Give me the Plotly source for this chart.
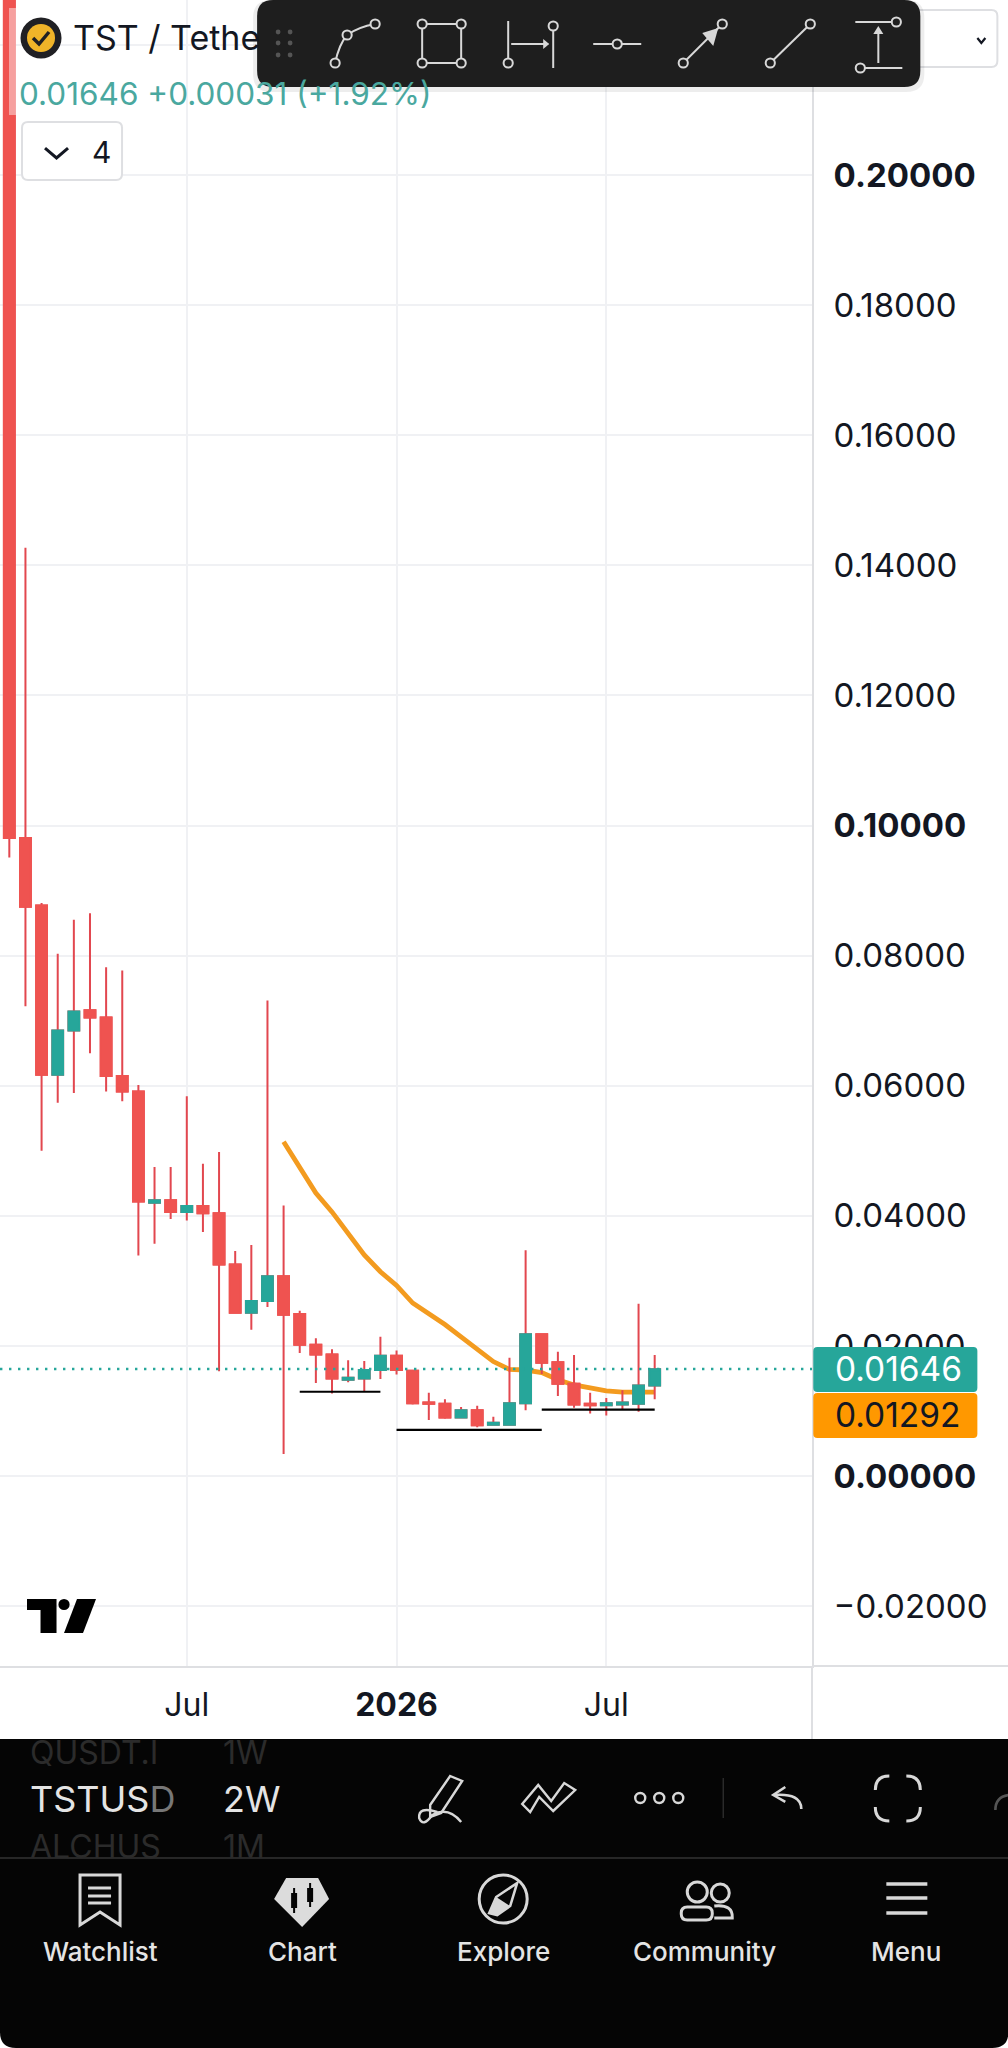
import plotly.graph_objects as go

# 2W candles
dates = [
    "2025-01-27", "2025-02-10", "2025-02-24", "2025-03-10", "2025-03-24", "2025-04-07",
    "2025-04-21", "2025-05-05", "2025-05-19", "2025-06-02", "2025-06-16", "2025-06-30",
    "2025-07-14", "2025-07-28", "2025-08-11", "2025-08-25", "2025-09-08", "2025-09-22",
    "2025-10-06", "2025-10-20", "2025-11-03", "2025-11-17", "2025-12-01", "2025-12-15",
    "2025-12-29", "2026-01-12", "2026-01-26", "2026-02-09", "2026-02-23", "2026-03-09",
    "2026-03-23", "2026-04-06", "2026-04-20", "2026-05-04", "2026-05-18", "2026-06-01",
    "2026-06-15", "2026-06-29", "2026-07-13", "2026-07-27", "2026-08-10",
]
opens = [
    0.3000, 0.0981, 0.0877, 0.0617, 0.0685, 0.0716, 0.0705, 0.0615, 0.0591, 0.0420, 0.0424,
    0.0406, 0.0415, 0.0404, 0.0325, 0.0251, 0.0269, 0.0307, 0.0249, 0.0202, 0.0187, 0.0148,
    0.0150, 0.0163, 0.0185, 0.0162, 0.0113, 0.0111, 0.0090, 0.0101, 0.0079, 0.0079, 0.0112,
    0.0218, 0.0175, 0.0142, 0.0111, 0.0109, 0.0110, 0.0111, 0.0139,
]
highs = [
    0.3000, 0.1427, 0.0881, 0.0803, 0.0855, 0.0865, 0.0782, 0.0777, 0.0601, 0.0475, 0.0475,
    0.0584, 0.0480, 0.0498, 0.0346, 0.0355, 0.0731, 0.0416, 0.0254, 0.0212, 0.0195, 0.0178,
    0.0177, 0.0214, 0.0193, 0.0162, 0.0128, 0.0118, 0.0106, 0.0108, 0.0091, 0.0182, 0.0347,
    0.0219, 0.0191, 0.0186, 0.0128, 0.0120, 0.0132, 0.0265, 0.0186,
]
lows = [
    0.0951, 0.0722, 0.0500, 0.0574, 0.0589, 0.0650, 0.0591, 0.0576, 0.0339, 0.0357, 0.0395,
    0.0393, 0.0375, 0.0161, 0.0251, 0.0225, 0.0260, 0.0034, 0.0189, 0.0143, 0.0127, 0.0144,
    0.0130, 0.0149, 0.0156, 0.0110, 0.0086, 0.0088, 0.0090, 0.0075, 0.0078, 0.0079, 0.0101,
    0.0157, 0.0123, 0.0105, 0.0096, 0.0093, 0.0103, 0.0099, 0.0118,
]
closes = [
    0.0981, 0.0875, 0.0617, 0.0685, 0.0714, 0.0705, 0.0615, 0.0591, 0.0422, 0.0424, 0.0406,
    0.0415, 0.0404, 0.0325, 0.0251, 0.0269, 0.0307, 0.0248, 0.0202, 0.0187, 0.0150, 0.0151,
    0.0163, 0.0185, 0.0163, 0.0112, 0.0111, 0.0090, 0.0101, 0.0078, 0.0082, 0.0112, 0.0218,
    0.0174, 0.0142, 0.0110, 0.0109, 0.0112, 0.0113, 0.0139, 0.0164,
]

# moving average, starts at the 18th candle
ma_values = [
    0.0514, 0.0473, 0.0435, 0.0406, 0.0374, 0.0340, 0.0314, 0.0293, 0.0266, 0.0250, 0.0233,
    0.0214, 0.0195, 0.0176, 0.0164, 0.0163, 0.0159, 0.0148, 0.0140, 0.0135, 0.0131, 0.0129,
    0.0129, 0.0129,
]

# hand drawn support lines
level_starts = ["2025-10-06", "2025-12-29", "2026-05-04"]
level_ends = ["2025-12-15", "2026-05-04", "2026-08-10"]
level_values = [0.01296, 0.0071, 0.0102]

last_price = 0.01646
ma_last = 0.01292

y_ticks = [-0.02, 0.0, 0.02, 0.04, 0.06, 0.08, 0.10, 0.12, 0.14, 0.16, 0.18, 0.20, 0.22]
y_labels = [
    "−0.02000", "<b>0.00000</b>", "0.02000", "0.04000", "0.06000", "0.08000", "<b>0.10000</b>",
    "0.12000", "0.14000", "0.16000", "0.18000", "<b>0.20000</b>", "",
]
x_ticks = ["2025-06-30", "2025-12-29", "2026-06-29"]
x_labels = ["Jul", "<b>2026</b>", "Jul"]

RED = "#ef5350"
WICK = "#e2474f"
TEAL = "#26a69a"
ORANGE = "#f39b1f"
INK = "#131722"
GRID = "#f0f1f4"
EDGE = "#dedfe2"
FONT = "Inter"

PLOT_W = 811.7
PLOT_H = 1666.0


def px(x):
    return x / PLOT_W


def py(y):
    return 1 - y / PLOT_H


def poly(points, fill=None, line=None, width=0, closed=True):
    """Shape from pixel points of the page"""
    path = "M " + " L ".join(f"{px(x):.5f},{py(y):.5f}" for x, y in points)
    if closed:
        path += " Z"
    return dict(
        type="path", xref="paper", yref="paper", path=path, layer="above",
        fillcolor=fill if fill else "rgba(0,0,0,0)",
        line=dict(color=line if line else "rgba(0,0,0,0)", width=width),
    )


def curve(d, fill=None, line=None, width=0):
    """Shape from a list of (command, x, y, ...) in page pixels"""
    parts = []
    for seg in d:
        nums = seg[1:]
        pairs = [f"{px(nums[i]):.5f},{py(nums[i + 1]):.5f}" for i in range(0, len(nums), 2)]
        parts.append(seg[0] + " " + " ".join(pairs))
    return dict(
        type="path", xref="paper", yref="paper", path=" ".join(parts), layer="above",
        fillcolor=fill if fill else "rgba(0,0,0,0)",
        line=dict(color=line if line else "rgba(0,0,0,0)", width=width),
    )


def round_rect(x0, y0, x1, y1, r, fill=None, line=None, width=0):
    d = [
        ("M", x0 + r, y0), ("L", x1 - r, y0), ("Q", x1, y0, x1, y0 + r),
        ("L", x1, y1 - r), ("Q", x1, y1, x1 - r, y1), ("L", x0 + r, y1),
        ("Q", x0, y1, x0, y1 - r), ("L", x0, y0 + r), ("Q", x0, y0, x0 + r, y0), ("Z",),
    ]
    return curve(d, fill, line, width)


def rect(x0, y0, x1, y1, fill):
    return dict(
        type="rect", xref="paper", yref="paper", layer="above",
        x0=px(x0), x1=px(x1), y0=py(y0), y1=py(y1), fillcolor=fill, line=dict(width=0),
    )


def seg(x0, y0, x1, y1, color, width=2):
    return dict(
        type="line", xref="paper", yref="paper", layer="above",
        x0=px(x0), x1=px(x1), y0=py(y0), y1=py(y1), line=dict(color=color, width=width),
    )


def circ(cx, cy, r, fill=None, line=None, width=0):
    return dict(
        type="circle", xref="paper", yref="paper", layer="above",
        x0=px(cx - r), x1=px(cx + r), y0=py(cy - r), y1=py(cy + r),
        fillcolor=fill if fill else "rgba(0,0,0,0)",
        line=dict(color=line if line else "rgba(0,0,0,0)", width=width),
    )


def label(text, x, y, size, color=INK, anchor="left", weight=None):
    return dict(
        text=text, x=px(x), y=py(y), xref="paper", yref="paper", showarrow=False,
        xanchor=anchor, yanchor="middle", borderpad=0,
        font=dict(family=FONT, size=size, color=color, weight=weight),
    )


fig = go.Figure()

# moving average sits behind the candles, so candles go on the overlaid axis
fig.add_trace(go.Scatter(
    x=dates[17:], y=ma_values, mode="lines", yaxis="y",
    line=dict(color=ORANGE, width=4.8), hoverinfo="skip",
))
# wicks are red on every candle, green bodies are painted over them
fig.add_trace(go.Candlestick(
    x=dates, open=opens, high=highs, low=lows, close=closes, yaxis="y2",
    increasing=dict(line=dict(color=WICK, width=2), fillcolor=WICK),
    decreasing=dict(line=dict(color=WICK, width=2), fillcolor=WICK),
))
fig.add_trace(go.Candlestick(
    x=dates, open=opens, close=closes, yaxis="y2",
    high=[max(o, c) for o, c in zip(opens, closes)],
    low=[min(o, c) for o, c in zip(opens, closes)],
    increasing=dict(line=dict(color=TEAL, width=2), fillcolor=TEAL),
    decreasing=dict(line=dict(color=RED, width=2), fillcolor=RED),
))
for start, end, value in zip(level_starts, level_ends, level_values):
    fig.add_trace(go.Scatter(
        x=[start, end], y=[value, value], mode="lines", yaxis="y2",
        line=dict(color="#000000", width=2.2), hoverinfo="skip",
    ))

shapes = [
    dict(
        type="line", xref="paper", yref="y", layer="above", x0=0, x1=1,
        y0=last_price, y1=last_price, line=dict(color=TEAL, width=2.4, dash="2.4px,6.6px"),
    ),
    # header veil over the first candle
    rect(9, 8, 16, 115, "rgba(255,255,255,0.45)"),
    # axis lines below and right of the plot
    seg(811.7, 1666, 811.7, 1739, EDGE, 2),
    seg(811.7, 1666, 1008, 1666, EDGE, 2),
    # price tags
    round_rect(813, 1347, 977, 1392, 4, TEAL),
    round_rect(813, 1393, 977, 1438, 4, "#ff9800"),
    # symbol logo
    circ(41, 38, 20.5, "#202024"),
    circ(41, 38, 14, "#f0b429"),
    poly([(33, 38), (39, 44), (49, 32)], None, "#202024", 3.5, closed=False),
    # interval button
    round_rect(22, 122, 122, 180, 6, "#ffffff", EDGE, 2),
    poly([(45, 148), (56.5, 158), (68, 148)], None, INK, 3, closed=False),
    # dropdown on the right
    round_rect(900, 10, 997, 67, 6, "#ffffff", EDGE, 2),
    poly([(977, 38), (981, 43), (985, 38)], None, INK, 2.2, closed=False),
    # drawing toolbar
    round_rect(253, 0, 924, 92, 18, "rgba(0,0,0,0.07)"),
    round_rect(257, 0, 920, 87, 16, "#1e1e1e"),
]

LIGHT = "#d8d8d8"
for gx in (278, 290):
    for gy in (32, 43, 55):
        shapes.append(circ(gx, gy, 2.4, "#555555"))


def handle(x, y):
    return circ(x, y, 4.6, "#1e1e1e", LIGHT, 2)


shapes += [
    # path tool
    curve([("M", 335, 63), ("Q", 339, 44, 347, 35), ("Q", 358, 27, 375, 24)], None, LIGHT, 2),
    handle(335, 63), handle(347, 35), handle(375, 24),
    # rectangle
    poly([(422, 24), (461, 24), (461, 63), (422, 63)], None, LIGHT, 2),
    handle(422, 24), handle(461, 24), handle(422, 63), handle(461, 63),
    # date range
    seg(508, 21, 508, 58, LIGHT), seg(553, 31, 553, 68, LIGHT), seg(511, 44, 548, 44, LIGHT),
    poly([(549, 44), (543, 39), (543, 49)], LIGHT),
    handle(508, 63), handle(553, 26),
    # horizontal line
    seg(593, 44, 641, 44, LIGHT), handle(617, 44),
    # arrow
    seg(683, 63, 722, 24, LIGHT), poly([(718, 28), (702, 33), (713, 46)], LIGHT),
    handle(683, 63), handle(722, 24),
    # trend line
    seg(770, 63, 810, 24, LIGHT), handle(770, 63), handle(810, 24),
    # price range
    seg(855, 22, 892, 22, LIGHT), seg(864, 68, 902, 68, LIGHT), seg(878, 30, 878, 63, LIGHT),
    poly([(878, 26), (873, 34), (883, 34)], LIGHT),
    handle(896, 22), handle(860, 68),
    # tradingview logo
    poly([(27, 1599), (56.5, 1599), (56.5, 1633), (40.5, 1633), (40.5, 1610), (27, 1610)], "#000000"),
    circ(64, 1604.5, 5.6, "#000000"),
    poly([(77, 1599), (96, 1599), (83, 1633), (64, 1633)], "#000000"),
    # dark bottom panel
    curve([
        ("M", 0, 1739), ("L", 1008, 1739), ("L", 1008, 2032), ("Q", 1008, 2048, 992, 2048),
        ("L", 16, 2048), ("Q", 0, 2048, 0, 2032), ("Z",),
    ], "#050505"),
    seg(0, 1858, 1008, 1858, "#333333", 1.5),
    seg(723, 1778, 723, 1818, "#2a2a2a", 1.5),
    # pencil
    poly([(450, 1776), (462, 1781), (441, 1813), (430, 1817), (430, 1805)], None, LIGHT, 2.4),
    curve([("M", 437, 1812), ("Q", 418, 1806, 419, 1818), ("Q", 423, 1828, 432, 1815),
           ("Q", 448, 1806, 461, 1822)], None, LIGHT, 2.4),
    # zigzag
    poly([(522, 1804), (538, 1785), (551, 1801), (564, 1783), (575, 1790), (553, 1811),
          (539, 1797), (530, 1812)], None, LIGHT, 2.4),
    # more
    circ(640, 1798, 5, None, LIGHT, 2.4), circ(659, 1798, 5, None, LIGHT, 2.4),
    circ(678, 1798, 5, None, LIGHT, 2.4),
    # undo
    poly([(785, 1787), (773, 1795), (785, 1802)], None, LIGHT, 2.6, closed=False),
    curve([("M", 774, 1795), ("Q", 801, 1793, 801, 1809)], None, LIGHT, 2.6),
    # fullscreen corners
    curve([("M", 875, 1790), ("Q", 875, 1776, 889, 1776)], None, LIGHT, 3),
    curve([("M", 906, 1776), ("Q", 920, 1776, 920, 1790)], None, LIGHT, 3),
    curve([("M", 875, 1807), ("Q", 875, 1821, 889, 1821)], None, LIGHT, 3),
    curve([("M", 906, 1821), ("Q", 920, 1821, 920, 1807)], None, LIGHT, 3),
    # cut off icon at the edge
    curve([("M", 995, 1810), ("Q", 995, 1797, 1008, 1795)], None, "#555555", 2.6),
    # watchlist
    poly([(80, 1875), (120, 1875), (120, 1925), (100, 1912), (80, 1925)], None, LIGHT, 3),
    seg(88, 1888, 111, 1888, LIGHT, 3), seg(88, 1896, 111, 1896, LIGHT, 3),
    seg(88, 1903, 111, 1903, LIGHT, 3),
    # chart
    poly([(286, 1878), (318, 1878), (329, 1899), (302, 1927), (274, 1899)], "#dcdcdc"),
    rect(291, 1893, 297, 1908, "#050505"), seg(294, 1888, 294, 1913, "#050505", 2),
    rect(307, 1888, 313, 1902, "#050505"), seg(310, 1883, 310, 1907, "#050505", 2),
    # explore
    circ(503, 1899, 24, None, LIGHT, 3),
    poly([(517, 1883), (510, 1906), (497, 1915), (489, 1913), (496, 1897)], None, LIGHT, 2.6),
    poly([(510, 1906), (497, 1915), (489, 1913), (496, 1897)], LIGHT),
    # community
    circ(697, 1892, 10, None, LIGHT, 3), circ(720, 1893, 9, None, LIGHT, 3),
    round_rect(681, 1907, 712, 1920, 6, None, LIGHT, 3),
    curve([("M", 714, 1906), ("Q", 733, 1904, 732, 1918), ("L", 714, 1918)], None, LIGHT, 3),
    # menu
    seg(886, 1884, 927, 1884, LIGHT, 3.4), seg(886, 1898, 927, 1898, LIGHT, 3.4),
    seg(886, 1913, 927, 1913, LIGHT, 3.4),
]

NAV = "#e4e4e4"
DIM = "#2b2b2b"
annotations = [
    label("TST / Tethe", 72, 38, 34),
    label("0.01646 +0.00031 (+1.92%)", 18, 93, 31.5, "#4aa89f"),
    label("4", 101, 152, 30, anchor="center"),
    label(f"{last_price:.5f}", 834, 1369, 33.5, "#ffffff"),
    label(f"{ma_last:.5f}", 834, 1415, 33.5, INK),
    label("QUSDT.I", 29, 1752, 32, DIM),
    label("1W", 222, 1752, 32, DIM),
    label('TSTUS<span style="color:#777777">D</span>', 29, 1799, 36, NAV),
    label("2W", 222, 1799, 36, NAV),
    label("ALCHUS", 29, 1847, 32, DIM),
    label("1M", 222, 1847, 32, DIM),
    label("Watchlist", 100, 1952, 26, NAV, "center", 500),
    label("Chart", 302, 1952, 26, NAV, "center", 500),
    label("Explore", 503, 1952, 26, NAV, "center", 500),
    label("Community", 704, 1952, 26, NAV, "center", 500),
    label("Menu", 906, 1952, 26, NAV, "center", 500),
]

y_range = [-0.0292, 0.2269]
fig.update_layout(
    width=1008,
    height=2048,
    margin=dict(l=0, r=1008 - PLOT_W, t=0, b=2048 - PLOT_H),
    paper_bgcolor="#ffffff",
    plot_bgcolor="#ffffff",
    showlegend=False,
    boxgap=0.33,
    boxgroupgap=0,
    boxmode="overlay",
    hovermode=False,
    dragmode=False,
    font=dict(family=FONT, color=INK, size=30),
    xaxis=dict(
        range=["2025-01-18 22:00", "2026-12-24 12:00"],
        rangeslider=dict(visible=False),
        tickmode="array", tickvals=x_ticks, ticktext=x_labels,
        showgrid=True, gridcolor=GRID, gridwidth=2,
        showline=True, linecolor=EDGE, linewidth=2,
        ticks="", ticklabelstandoff=10,
        tickfont=dict(family=FONT, size=32, color=INK),
    ),
    yaxis=dict(
        range=y_range, side="right",
        tickmode="array", tickvals=y_ticks, ticktext=y_labels,
        showgrid=True, gridcolor=GRID, gridwidth=2, zeroline=False,
        showline=True, linecolor=EDGE, linewidth=2, mirror=False,
        ticks="", ticklabelstandoff=13,
        tickfont=dict(family=FONT, size=33, color=INK),
    ),
    yaxis2=dict(range=y_range, overlaying="y", side="right", visible=False),
    shapes=shapes,
    annotations=annotations,
)

fig.write_html(
    "out.html",
    config={"displayModeBar": False},
    post_script="document.body.style.margin='0';",
)
